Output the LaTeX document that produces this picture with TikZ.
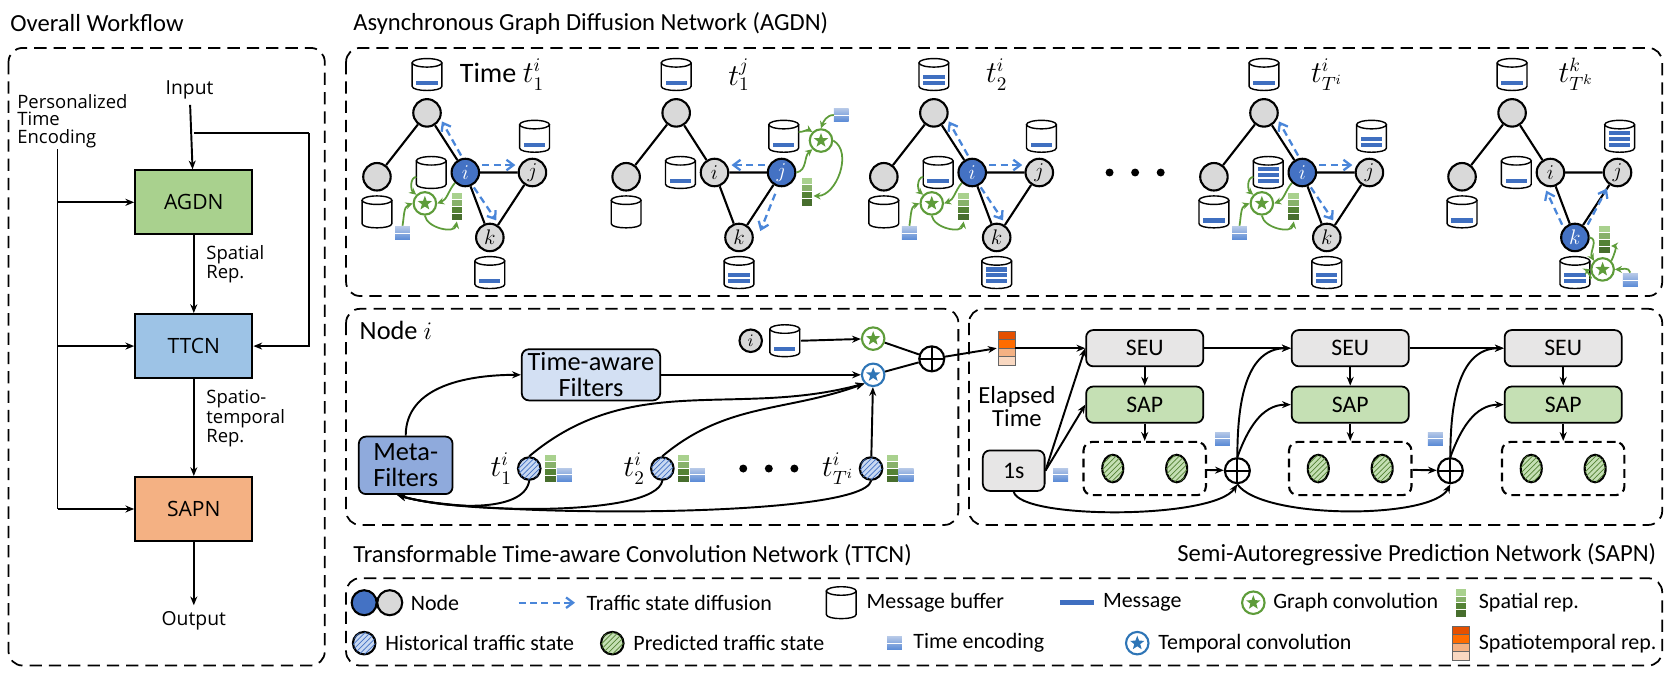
\documentclass[tikz,border=0pt]{standalone}
\usepackage{fontspec}
\setmainfont{Carlito}
\newfontfamily\osf{Open Sans}
\usetikzlibrary{arrows.meta,shapes.geometric,patterns,calc}
\definecolor{nodeblue}{HTML}{4472C4}
\definecolor{nodegray}{HTML}{D9D9D9}
\definecolor{diffblue}{HTML}{4A86D9}
\definecolor{msgblue}{HTML}{3F6FC0}
\definecolor{gconv}{HTML}{548235}
\definecolor{gline}{HTML}{5E9C3A}
\definecolor{tconv}{HTML}{2E75B6}
\definecolor{agdnfill}{HTML}{A9D18E}
\definecolor{ttcnfill}{HTML}{9DC3E6}
\definecolor{sapnfill}{HTML}{F4B183}
\definecolor{seufill}{HTML}{E7E6E6}
\definecolor{sapfill}{HTML}{C5E0B4}
\definecolor{metafill}{HTML}{8FAADC}
\definecolor{taffill}{HTML}{D3E0F3}
\definecolor{histbg}{HTML}{C9D9F2}
\definecolor{tencA}{HTML}{B4C7E7}
\definecolor{tencB}{HTML}{5B8BD6}
\begin{document}
\begin{tikzpicture}[x=0.0213cm,y=-0.0213cm,
 dbox/.style={draw, dash pattern=on 7pt off 4pt, line width=1pt, rounded corners=8pt},
 arr/.style={-{Stealth[length=5pt,width=4pt]}, line width=1.1pt},
 gn/.style={circle, draw, line width=1.2pt, fill=nodegray, minimum size=0.55cm, inner sep=0pt, font=\large},
 an/.style={gn, fill=nodeblue, text=white},
 si/.style=gn, sj/.style=gn, sk/.style=gn,
 edge/.style={line width=1.2pt},
 diff/.style={dash pattern=on 4pt off 2.5pt, line width=1.3pt, draw=diffblue, -{Straight Barb[length=4pt,width=6pt]}},
 garr/.style={draw=gline, line width=1pt, -{Stealth[length=4pt,width=4pt]}},
 blk/.style={draw, line width=1pt, rounded corners=4pt, font=\fontsize{13.5}{14}\selectfont, align=center, inner sep=0pt},
 wf/.style={draw, line width=1.2pt, minimum width=110*0.0213cm, minimum height=60*0.0213cm, font=\osf\fontsize{12}{13}\selectfont},
 hist/.style={circle, draw, line width=1.2pt, minimum size=0.45cm, inner sep=0pt, fill=histbg, postaction={pattern=north east lines, pattern color=nodeblue}},
 pred/.style={ellipse, draw, line width=1.2pt, minimum width=0.42cm, minimum height=0.55cm, inner sep=0pt, fill=sapfill, postaction={pattern=north east lines, pattern color=gconv}},
 opl/.style={circle, draw, line width=1.2pt, minimum size=0.5cm, inner sep=0pt, path picture={\draw[line width=1.2pt] (path picture bounding box.north)--(path picture bounding box.south) (path picture bounding box.west)--(path picture bounding box.east);}},
 sc/.style={circle, draw=#1, line width=1.2pt, minimum size=0.45cm, inner sep=0pt, fill=white},
 st/.style={star, star points=5, star point ratio=2.4, fill=#1, minimum size=0.3cm, inner sep=0pt},
 lab/.style={font=\fontsize{12.5}{14}\selectfont},
 mlab/.style={font=\fontsize{16}{17}\selectfont},
 pics/buf/.style={code={
   \fill[white] (-14,-11) -- (-14,11) .. controls (-14,16.3) and (14,16.3) .. (14,11) -- (14,-11) -- cycle;
   \draw[line width=0.8pt] (-14,-11) -- (-14,11) .. controls (-14,16.3) and (14,16.3) .. (14,11) -- (14,-11);
   \draw[line width=0.8pt, fill=white] (0,-11) ellipse (14 and 4);
   \ifnum#1>0 \foreach \k in {1,...,#1} {\fill[msgblue] (-10,{10-(\k-1)*5.5}) rectangle (10,{6-(\k-1)*5.5});}\fi }},
 pics/spat/.style={code={
   \fill[gconv!85!black] (-5,13) rectangle (5,6.5);
   \fill[gconv] (-5,6.5) rectangle (5,0);
   \fill[agdnfill!60!gconv] (-5,0) rectangle (5,-6.5);
   \fill[agdnfill] (-5,-6.5) rectangle (5,-13);
   \draw[white, line width=0.3pt] (-5,6.5)--(5,6.5) (-5,0)--(5,0) (-5,-6.5)--(5,-6.5);}},
 pics/tenc/.style={code={
   \shade[top color=tencA, bottom color=tencB] (-7,-6) rectangle (7,6);
   \draw[white, line width=0.5pt] (-7,0)--(7,0);}},
 pics/strep/.style={code={
   \fill[orange!70!red!90!black] (-8,-16) rectangle (8,-8);
   \fill[orange!85!red] (-8,-8) rectangle (8,0);
   \fill[sapnfill] (-8,0) rectangle (8,8);
   \fill[sapnfill!50] (-8,8) rectangle (8,16);
   \draw[black!60, line width=0.3pt] (-8,-16) rectangle (8,16) (-8,-8)--(8,-8) (-8,0)--(8,0) (-8,8)--(8,8);}}
]
\useasboundingbox (0,0) rectangle (1573,635);

% ================= Overall workflow =================
\draw[dbox] (8,45) rectangle (305,625);
\node[anchor=west, font=\fontsize{14}{15}\selectfont] (tw) at (4,22) {Overall Workflow};
\node[font=\osf\fontsize{11}{12}\selectfont] (inp) at (178,84) {Input};
\node[font=\osf\fontsize{10.5}{10}\selectfont, align=left, anchor=north west, inner sep=0pt] (pte) at (16,88) {Personalized\\Time\\Encoding};
\node[wf, fill=agdnfill] (agdn) at (182,190) {AGDN};
\node[wf, fill=ttcnfill] (ttcn) at (182,325) {TTCN};
\node[wf, fill=sapnfill] (sapn) at (182,478) {SAPN};
\node[font=\osf\fontsize{11}{12}\selectfont] (outp) at (182,583) {Output};
\node[font=\osf\fontsize{10.5}{10}\selectfont, align=left, anchor=west] (lsr) at (188,248) {Spatial\\Rep.};
\node[font=\osf\fontsize{10.5}{10}\selectfont, align=left, anchor=west] (lstr) at (188,393) {Spatio-\\temporal\\Rep.};
\coordinate (br) at (182,125);
\coordinate (lp) at (290,125);
\draw[arr] (inp) -- (agdn);
\draw[line width=1.1pt] (br) -- (lp);
\draw[arr] (lp) |- (ttcn.east);
\draw[arr] (agdn) -- (ttcn);
\draw[arr] (ttcn) -- (sapn);
\draw[arr] (sapn) -- (outp);
\coordinate (pt0) at (54,140);
\coordinate (pt3) at (54,478);
\draw[line width=1.1pt] (pt0) -- (pt3);
\draw[arr] (pt0 |- agdn) -- (agdn);
\draw[arr] (pt0 |- ttcn) -- (ttcn);
\draw[arr] (pt3) -- (sapn);

% ================= AGDN =================
\draw[dbox] (325,45) rectangle (1561,278);
\node[anchor=west, font=\fontsize{14}{15}\selectfont] (tagdn) at (326,22) {Asynchronous Graph Diffusion Network (AGDN)};

\newcommand\snapbase[8]{%
 \begin{scope}[shift={(#2,0)}, #3]
  \node[gn] (#1T) at (401,106) {};
  \node[gn] (#1L) at (354,166) {};
  \node[si] (#1i) at (437,162) {$i$};
  \node[sj] (#1j) at (500,162) {$j$};
  \node[sk] (#1k) at (460,223) {$k$};
  \draw[edge] (#1T) -- (#1L) (#1T) -- (#1i) (#1i) -- (#1j) (#1i) -- (#1k) (#1j) -- (#1k);
  \coordinate (#1bT) at (401,70);
  \coordinate (#1bI) at (405,162);
  \coordinate (#1bL) at (354,199);
  \coordinate (#1bJ) at (502,128);
  \coordinate (#1bK) at (460,256);
  \pic at (#1bT) {buf=#4};
  \pic at (#1bI) {buf=#5};
  \pic at (#1bL) {buf=#6};
  \pic at (#1bJ) {buf=#7};
  \pic at (#1bK) {buf=#8};
 \end{scope}}
\newcommand\fromi[1]{%
  \draw[diff] ($(#1i)+(-4,-16)$) -- ($(#1T)+(14,8)$);
  \draw[diff] ($(#1i)+(16,-7)$) -- ($(#1j)+(-16,-7)$);
  \draw[diff] ($(#1i)+(8,14)$) -- ($(#1k)+(6,-16)$);
  \node[sc=gline] (#1g) at ($(#1i)+(-38,29)$) {};
  \node[st=gline] (#1gs) at (#1g) {};
  \coordinate (#1sp) at ($(#1i)+(-8,32)$);
  \coordinate (#1te) at ($(#1i)+(-59,57)$);
  \pic at (#1sp) {spat};
  \pic at (#1te) {tenc};
  \draw[garr] ($(#1bI)+(-14,4)$) to[out=190,in=140] (#1g.north west);
  \draw[garr] ($(#1te)+(0,-7)$) to[out=80,in=200] (#1g.west);
  \draw[garr] (#1i.south west) to[out=230,in=20] (#1g.east);
  \draw[garr] (#1g.south) to[out=-80,in=-100] ($(#1sp)+(0,14)$);}

\snapbase{s1}{0}{si/.style=an}{1}{0}{0}{1}{1}
\fromi{s1}
\node[anchor=west, mlab] (l1) at (426,70) {Time $t_1^i$};

\snapbase{s2}{234}{sj/.style=an}{1}{1}{0}{1}{2}
\draw[diff] ($(s2j)+(-16,-7)$) -- ($(s2i)+(16,-7)$);
\draw[diff] ($(s2j)+(-6,20)$) -- ($(s2k)+(20,-6)$);
\node[sc=gline] (s2g) at ($(s2j)+(37,-30)$) {};
\node[st=gline] (s2gs) at (s2g) {};
\coordinate (s2sp) at ($(s2j)+(24,18)$);
\coordinate (s2te) at ($(s2j)+(56,-54)$);
\pic at (s2sp) {spat};
\pic at (s2te) {tenc};
\draw[garr] ($(s2bJ)+(14,-4)$) to[out=0,in=150] (s2g.north west);
\draw[garr] (s2j.east) to[out=10,in=220] (s2g.south west);
\draw[garr] ($(s2te)+(-7,0)$) to[out=180,in=70] (s2g.north);
\draw[garr] (s2g.east) to[out=-30,in=0] ($(s2sp)+(6,4)$);
\node[mlab] (l2) at (694,70) {$t_1^j$};

\snapbase{s3}{476}{si/.style=an}{2}{1}{0}{1}{3}
\fromi{s3}
\node[mlab] (l3) at (936,70) {$t_2^i$};

\node[circle, fill, inner sep=1.6pt] (d1) at (1042,162) {};
\node[circle, fill, inner sep=1.6pt] (d2) at (1066,162) {};
\node[circle, fill, inner sep=1.6pt] (d3) at (1090,162) {};

\snapbase{s4}{786}{si/.style=an}{1}{3}{1}{2}{2}
\fromi{s4}
\node[mlab] (l4) at (1246,70) {$t_{T^i}^i$};

\snapbase{s5}{1019}{sk/.style=an}{1}{1}{1}{3}{2}
\draw[diff] ($(s5k)+(-12,-12)$) -- ($(s5i)+(-4,17)$);
\draw[diff] ($(s5k)+(12,-12)$) -- ($(s5j)+(-10,15)$);
\coordinate (s5sp) at ($(s5k)+(28,2)$);
\node[sc=gline] (s5g) at ($(s5k)+(26,30)$) {};
\node[st=gline] (s5gs) at (s5g) {};
\coordinate (s5te) at ($(s5k)+(52,40)$);
\pic at (s5sp) {spat};
\pic at (s5te) {tenc};
\draw[garr] (s5k.east) to[out=-10,in=120] (s5g.north west);
\draw[garr] ($(s5bK)+(14,6)$) to[out=0,in=200] (s5g.west);
\draw[garr] ($(s5te)+(0,-7)$) to[out=100,in=0] (s5g.east);
\draw[garr] (s5g.north east) to[out=60,in=0] ($(s5sp)+(6,6)$);
\node[mlab] (l5) at (1480,70) {$t_{T^k}^k$};

% ================= TTCN =================
\draw[dbox] (325,290) rectangle (900,493);
\node[anchor=west, font=\fontsize{15}{16}\selectfont] (tni) at (332,310) {Node $i$};
\node[gn, minimum size=0.45cm, font=\normalsize] (tn) at (705,320) {$i$};
\coordinate (tb) at (737,320);
\pic at (tb) {buf=1};
\node[sc=gline] (gc1) at (820,318) {};
\node[st=gline] (gc1s) at (gc1) {};
\node[sc=tconv] (tc1) at (820,352) {};
\node[st=tconv] (tc1s) at (tc1) {};
\node[blk, fill=taffill, minimum width=130*0.0213cm, minimum height=48*0.0213cm, font=\fontsize{15}{15}\selectfont] (taf) at (555,352) {Time-aware\\Filters};
\node[blk, fill=metafill, minimum width=88*0.0213cm, minimum height=54*0.0213cm, font=\fontsize{15}{15}\selectfont] (meta) at (381,437) {Meta-\\Filters};
\node[hist] (h1) at (497,440) {};
\node[hist] (h2) at (622,440) {};
\node[hist] (h3) at (818,440) {};
\node[anchor=east, mlab] (th1) at ($(h1.west)+(1,0)$) {$t_1^i$};
\node[anchor=east, mlab] (th2) at ($(h2.west)+(1,0)$) {$t_2^i$};
\node[anchor=east, mlab] (th3) at ($(h3.west)+(1,0)$) {$t_{T^i}^i$};
\foreach \h in {h1,h2,h3}{
  \pic at ($(\h)+(20,0)$) {spat};
  \pic at ($(\h)+(33,6)$) {tenc};}
\node[circle, fill, inner sep=1.6pt] (e1) at (698,440) {};
\node[circle, fill, inner sep=1.6pt] (e2) at (722,440) {};
\node[circle, fill, inner sep=1.6pt] (e3) at (746,440) {};
\node[opl] (opT) at (875,337) {};
\draw[arr] ($(tb)+(15,0)$) -- (gc1);
\draw[arr] (taf) -- (tc1);
\draw[arr] (meta.north) to[out=90,in=180] (taf.west);
\draw[arr] (h1.north) to[out=40,in=195] (tc1.south west);
\draw[arr] (h2.north) to[out=40,in=200] (tc1.south west);
\draw[arr] (h3) -- (tc1);
\draw[arr] (h1.south) .. controls (492,482) and (420,478) .. ($(meta.south)+(-8,0)$);
\draw[arr] (h2.south) .. controls (615,486) and (430,482) .. ($(meta.south)+(-8,0)$);
\draw[arr] (h3.south) .. controls (810,488) and (440,486) .. ($(meta.south)+(-8,0)$);
\draw[line width=1.1pt] (gc1) -- (opT);
\draw[line width=1.1pt] (tc1) -- (opT);

% ================= SAPN =================
\draw[dbox] (910,290) rectangle (1561,493);
\node[anchor=west, font=\fontsize{14}{15}\selectfont] (tttcn) at (326,521) {Transformable Time-aware Convolution Network (TTCN)};
\node[anchor=east, font=\fontsize{14}{15}\selectfont] (tsapn) at (1561,521) {Semi-Autoregressive Prediction Network (SAPN)};
\coordinate (strc) at (945,327);
\pic at (strc) {strep};
\draw[arr] (opT) -- ($(strc)+(-9,0)$);
\foreach \n/\x in {1/1075,2/1268,3/1468}{
  \node[blk, fill=seufill, minimum width=110*0.0213cm, minimum height=34*0.0213cm] (seu\n) at (\x,327) {SEU};
  \node[blk, fill=sapfill, minimum width=110*0.0213cm, minimum height=34*0.0213cm] (sap\n) at (\x,380) {SAP};
  \node[draw, dash pattern=on 5pt off 3pt, line width=1.2pt, rounded corners=5pt, minimum width=115*0.0213cm, minimum height=50*0.0213cm] (grp\n) at (\x,440) {};
  \node[pred] (pa\n) at (\x-30,440) {};
  \node[pred] (pb\n) at (\x+30,440) {};
  \draw[arr] (seu\n) -- (sap\n);
  \draw[arr] (sap\n) -- (grp\n);}
\draw[arr] ($(strc)+(8,0)$) -- (seu1);
\draw[arr] (seu1) -- (seu2);
\draw[arr] (seu2) -- (seu3);
\node[align=center, font=\fontsize{14}{13}\selectfont] (elt) at (955,382) {Elapsed\\Time};
\node[blk, fill=seufill, minimum width=58*0.0213cm, minimum height=38*0.0213cm] (one) at (952,442) {1s};
\pic at (996,446) {tenc};
\node[opl] (op1) at (1162,442) {};
\node[opl] (op2) at (1362,442) {};
\pic at (1148,412) {tenc};
\pic at (1348,412) {tenc};
\draw[arr] (one.east) -- (seu1.west);
\draw[arr] (one.east) -- (sap1.west);
\draw[arr] (grp1) -- (op1);
\draw[arr] (grp2) -- (op2);
\draw[arr] (op1.north) to[out=90,in=180] (seu2.west);
\draw[arr] (op1.north) to[out=70,in=180] (sap2.west);
\draw[arr] (op2.north) to[out=90,in=180] (seu3.west);
\draw[arr] (op2.north) to[out=70,in=180] (sap3.west);
\draw[arr] (one.south) .. controls (958,488) and (1140,488) .. (op1.south);
\draw[arr] (op1.south) .. controls (1185,488) and (1345,488) .. (op2.south);

% ================= Legend =================
\draw[dbox] (325,543) rectangle (1561,625);
\node[an, minimum size=0.5cm] (lg1) at (342,566) {};
\node[gn, minimum size=0.5cm] (lg2) at (366,566) {};
\node[lab, anchor=west] (lt1) at (380,566) {Node};
\coordinate (da) at (487,566);
\coordinate (db) at (540,566);
\draw[diff] (da) -- (db);
\node[lab, anchor=west] (lt2) at (545,566) {Traffic state diffusion};
\pic at (790,566) {buf=0};
\node[lab, anchor=west] (lt3) at (808,566) {Message buffer};
\fill[msgblue] (995,563) rectangle (1027,568);
\node[lab, anchor=west] (lt4) at (1030,566) {Message};
\node[sc=gline] (lg5) at (1177,566) {};
\node[st=gline] (lg5s) at (lg5) {};
\node[lab, anchor=west] (lt5) at (1190,566) {Graph convolution};
\pic at (1372,566) {spat};
\node[lab, anchor=west] (lt6) at (1383,566) {Spatial rep.};
\node[hist, minimum size=0.45cm] (lg7) at (342,604) {};
\node[lab, anchor=west] (lt7) at (356,604) {Historical traffic state};
\node[circle, draw, line width=1.2pt, minimum size=0.45cm, inner sep=0pt, fill=sapfill, postaction={pattern=north east lines, pattern color=gconv}] (lg8) at (575,604) {};
\node[lab, anchor=west] (lt8) at (589,604) {Predicted traffic state};
\pic at (840,604) {tenc};
\node[lab, anchor=west] (lt9) at (852,604) {Time encoding};
\node[sc=tconv] (lg10) at (1068,604) {};
\node[st=tconv] (lg10s) at (lg10) {};
\node[lab, anchor=west] (lt10) at (1082,604) {Temporal convolution};
\pic at (1372,604) {strep};
\node[lab, anchor=west] (lt11) at (1383,604) {Spatiotemporal rep.};
\end{tikzpicture}
\end{document}
